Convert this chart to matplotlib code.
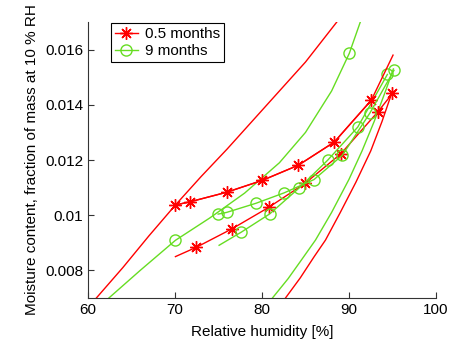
import matplotlib
matplotlib.use("Agg")
import matplotlib.pyplot as plt

plt.rcParams['font.family'] = ['Liberation Sans', 'DejaVu Sans']

red = '#ff0000'
green = '#66dd22'

# 0.5 months: measured points on the upper and lower branches, plus model curves
red_up_rh = [70.05, 71.78, 75.92, 80.02, 84.17, 88.31, 92.57]
red_up_mc = [0.01037, 0.01049, 0.01083, 0.01126, 0.01181, 0.01265, 0.01417]
red_up_end = (95.06, 0.0158)
red_lo_rh = [72.47, 76.57, 80.75, 84.93, 89.08, 93.33, 94.99]
red_lo_mc = [0.00884, 0.00951, 0.01028, 0.01115, 0.01223, 0.01375, 0.01441]
red_lo_start = (70.05, 0.0085)
red_left_rh = [60.96, 64.0, 67.0, 70.05, 73.0, 76.0, 79.0, 82.0, 85.0, 88.6]
red_left_mc = [0.0070, 0.0081, 0.00925, 0.01037, 0.0114, 0.0124, 0.01345, 0.0145, 0.01555, 0.0170]
red_right_rh = [82.7, 84.4, 86.0, 87.3, 89.0, 90.8, 92.5, 93.8, 95.0]
red_right_mc = [0.0070, 0.00773, 0.0085, 0.0091, 0.0101, 0.0112, 0.01233, 0.0134, 0.0145]

# 9 months
grn_up_rh = [74.96, 75.92, 79.29, 82.55, 85.97, 89.23, 92.4, 95.17]
grn_up_mc = [0.01004, 0.0101, 0.01043, 0.01081, 0.01129, 0.01217, 0.0137, 0.01525]
grn_lo_rh = [77.64, 80.9, 84.28, 87.54, 91.0, 94.41]
grn_lo_mc = [0.00939, 0.01005, 0.01099, 0.01199, 0.01319, 0.0151]
grn_lo_start = (75.07, 0.00891)
grn_left_rh = [62.4, 66.0, 70.05, 74.0, 78.0, 82.0, 85.0, 88.0, 90.03, 91.3]
grn_left_mc = [0.0070, 0.0080, 0.00909, 0.0099, 0.0108, 0.0119, 0.0130, 0.0145, 0.01586, 0.0170]
grn_left_pts_rh = [70.05, 90.03]
grn_left_pts_mc = [0.00909, 0.01586]
grn_right_rh = [81.2, 83.0, 84.4, 86.15, 88.0, 90.0, 91.5, 92.9, 94.2, 95.1]
grn_right_mc = [0.0070, 0.0077, 0.00832, 0.0091, 0.0101, 0.0113, 0.01233, 0.0134, 0.0145, 0.0153]

star = (8, 2, 0)
lw = 1.0
fs = 11

fig = plt.figure(figsize=(4.74, 3.48), dpi=100)
ax = fig.add_axes([88/474, 50/348, 348/474, 276/348])

# model curves
ax.plot(red_left_rh, red_left_mc, color=red, lw=lw)
ax.plot(red_right_rh, red_right_mc, color=red, lw=lw)
ax.plot(grn_left_rh, grn_left_mc, color=green, lw=lw)
ax.plot(grn_right_rh, grn_right_mc, color=green, lw=lw)
ax.plot(grn_left_pts_rh, grn_left_pts_mc, 'o', color=green, mfc='none', ms=8, mew=1)

# lower branches
ax.plot([red_lo_start[0]] + red_lo_rh, [red_lo_start[1]] + red_lo_mc, color=red, lw=lw)
ax.plot(red_lo_rh, red_lo_mc, ls='none', marker=star, color=red, ms=9, mew=1)
ax.plot([grn_lo_start[0]] + grn_lo_rh, [grn_lo_start[1]] + grn_lo_mc, color=green, lw=lw)
ax.plot(grn_lo_rh, grn_lo_mc, ls='none', marker='o', color=green, mfc='none', ms=8, mew=1)

# upper branches (legend entries)
ax.plot(red_up_rh + [red_up_end[0]], red_up_mc + [red_up_end[1]], color=red, lw=lw)
ax.plot(red_up_rh, red_up_mc, color=red, lw=lw, marker=star, ms=9, mew=1, label='0.5 months')
ax.plot(grn_up_rh, grn_up_mc, color=green, lw=lw, marker='o', mfc='none', ms=8, mew=1, label='9 months')

ax.set_xlim(60, 100)
ax.set_ylim(0.007, 0.017)
ax.set_xticks([60, 70, 80, 90, 100])
ax.set_yticks([0.008, 0.01, 0.012, 0.014, 0.016])
ax.set_yticklabels(['0.008', '0.01', '0.012', '0.014', '0.016'])
ax.spines['top'].set_visible(False)
ax.spines['right'].set_visible(False)
for s in ['left', 'bottom']:
    ax.spines[s].set_color('#333333')
    ax.spines[s].set_linewidth(0.8)
ax.tick_params(direction='in', length=4, width=0.8, labelsize=fs, colors='#333333', labelcolor='black')
ax.set_xlabel('Relative humidity [%]', fontsize=fs, labelpad=6)
ax.set_ylabel('Moisture content, fraction of mass at 10 % RH', fontsize=fs)

leg = ax.legend(loc='upper left', bbox_to_anchor=(0.066, 0.995), fontsize=fs, fancybox=False,
                edgecolor='black', framealpha=1, borderpad=0.25, labelspacing=0.2,
                handlelength=1.5, handletextpad=0.45, borderaxespad=0)
leg.get_frame().set_linewidth(0.8)

fig.savefig('out.png', dpi=100)
